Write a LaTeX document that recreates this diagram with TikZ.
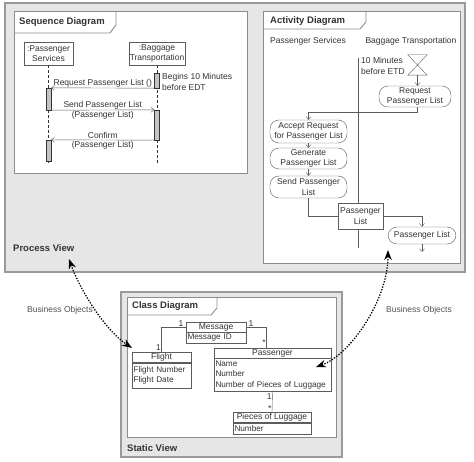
\documentclass[tikz,border=0pt]{standalone}
\usepackage{fontspec}
\setmainfont{Liberation Sans}
\usetikzlibrary{positioning, arrows.meta}

\definecolor{ink}{HTML}{333333}
\definecolor{viewfill}{HTML}{E6E6E6}
\definecolor{viewline}{HTML}{9A9A9A}
\definecolor{frameline}{HTML}{8C8C8C}
\definecolor{barfill}{HTML}{C4C4C4}

\begin{document}
\begin{tikzpicture}[x=1pt, y=-1pt,
  >={Straight Barb[length=3pt, width=5pt]},
  font=\fontsize{8.5}{10.5}\selectfont, text=ink,
  viewbox/.style={draw=viewline, line width=1.3pt, fill=viewfill},
  framebox/.style={draw=frameline, line width=0.9pt, fill=white},
  tabline/.style={draw=frameline, line width=0.9pt},
  titletext/.style={font=\fontsize{9.5}{11}\selectfont\bfseries, anchor=west, inner sep=0pt},
  lifebox/.style={rectangle, draw=ink!80, fill=white, align=center, inner sep=1pt,
    minimum width=#1, minimum height=23pt},
  lifeline/.style={draw=ink, line width=0.9pt, dash pattern=on 3pt off 2pt},
  actbar/.style={rectangle, draw=ink, fill=barfill, minimum width=5pt,
    minimum height=#1, inner sep=0pt},
  msg/.style={->, draw=ink!80},
  lbl/.style={inner sep=1pt},
  note/.style={anchor=west, align=left, inner sep=0pt},
  actbox/.style={rectangle, draw=ink!80, rounded corners=9pt, fill=white, align=center,
    minimum width=#1, minimum height=21pt, inner sep=1pt},
  flow/.style={->, draw=ink!80},
  objbox/.style={rectangle, draw=ink!80, fill=white, align=center,
    minimum width=45pt, minimum height=26pt, inner sep=1pt},
  clshead/.style={rectangle, draw=ink!80, fill=white, minimum width=#1,
    minimum height=10pt, inner sep=0pt},
  clsbody/.style={rectangle, draw=ink!80, fill=white, text width=#1, align=left,
    font=\fontsize{8.2}{10.5}\selectfont, inner xsep=1.5pt, inner ysep=1pt},
  assoc/.style={draw=ink!80},
  mult/.style={inner sep=0.5pt},
  busarr/.style={{Stealth[length=10pt, width=7.5pt]}-{Stealth[length=10pt, width=7.5pt]},
    line width=1.3pt, dash pattern=on 1.3pt off 1.5pt, draw=black},
]
\fill[white] (0,0) rectangle (474,462);
\useasboundingbox (0,0) rectangle (474,462);

% --- Process view ---
\draw[viewbox] (5,3) rectangle (465,272);
\node[titletext] (pvt) at (13,248) {Process View};

% --- Sequence diagram ---
\draw[framebox] (14,11) rectangle (247,173);
\draw[tabline] (116,11) -- (116,25) -- (110,33) -- (14,33);
\node[titletext] (sdt) at (19,22) {Sequence Diagram};

\node[lifebox=49pt] (ps) at (48.5,53.5) {:Passenger\\Services};
\node[lifebox=56pt] (bt) at (157,53.5) {:Baggage\\Transportation};
\coordinate (psend) at (48.5,163);
\coordinate (btend) at (157,163);
\draw[lifeline] (ps) -- (psend);
\draw[lifeline] (bt) -- (btend);

\node[actbar=15pt] (b1) at (157,80.5) {};
\node[actbar=22pt] (b2) at (48.5,99) {};
\node[actbar=30pt] (b3) at (157,125) {};
\node[actbar=21pt] (b4) at (48.5,150.5) {};

\draw[msg] (b1.south west) -- node[lbl, above] (m1) {Request Passenger List ()} (b2.north east);
\draw[msg] (b2.south east) -- node[lbl, above] (m2a) {Send Passenger List}
  node[lbl, below] (m2b) {(Passenger List)} (b3.north west);
\draw[msg] (b3.south west) -- node[lbl, above] (m3a) {Confirm}
  node[lbl, below] (m3b) {(Passenger List)} (b4.north east);
\node[note] (begins) at (162,82) {Begins 10 Minutes\\before EDT};

% --- Activity diagram ---
\draw[framebox] (263,11) rectangle (460,263);
\draw[tabline] (366,11) -- (366,22) -- (360,29) -- (263,29);
\node[titletext] (adt) at (270,21) {Activity Diagram};

\node (psh) at (308,41) {Passenger Services};
\node (bth) at (411,41) {Baggage Transportation};
\coordinate (lanetop) at (358,58);
\coordinate (lanebot) at (358,248);
\draw[ink!80] (lanetop) -- (lanebot);

\node[minimum width=19pt, minimum height=20pt, inner sep=0pt] (hg) at (417.5,65) {};
\draw[ink!80] (hg.north west) -- (hg.north east) -- (hg.south west) -- (hg.south east) -- cycle;
\node[note] (tmr) at (361,66) {10 Minutes\\before ETD};

\node[actbox=72pt] (req) at (415,96.5) {Request\\Passenger List};
\node[actbox=77pt, minimum height=23pt] (acc) at (308.5,131.5) {Accept Request\\for Passenger List};
\node[actbox=77pt] (gen) at (308.5,158.5) {Generate\\Passenger List};
\node[actbox=77pt, minimum height=22pt] (snd) at (308.5,187) {Send Passenger\\List};
\node[objbox] (obj) at (360.5,216) {Passenger\\List};
\node[actbox=68pt, minimum height=17pt] (pl) at (422,235.5) {Passenger List};
\coordinate (plend) at (422,252);

\draw[flow] (hg.south) -- (hg.south |- req.north);
\draw[flow] (req.south -| hg.south) -- ++(0,5) -| (acc.north);
\draw[flow] (acc) -- (gen);
\draw[flow] (gen) -- (snd);
\draw[ink!80] (snd.south) |- (obj.west);
\draw[flow] (obj.east) -| (pl.north);
\draw[flow] (pl.south) -- (plend);

% --- Static view ---
\draw[viewbox] (121,292) rectangle (342,457);
\node[titletext] (svt) at (127,448) {Static View};

% --- Class diagram ---
\draw[framebox] (127,297) rectangle (336,437);
\draw[tabline] (217,297) -- (217,308) -- (211,315) -- (127,315);
\node[titletext] (cdt) at (132,306) {Class Diagram};

\node[clshead=60pt] (msg) at (216,327) {Message};
\node[clsbody=57pt, minimum height=11pt, below=0pt of msg] (msgb) {Message ID};
\node[clshead=59pt] (fl) at (161.5,357.5) {Flight};
\node[clsbody=56pt, minimum height=25pt, below=0pt of fl] (flb) {Flight Number\\Flight Date};
\node[clshead=117pt] (pa) at (272.5,353) {Passenger};
\node[clsbody=114pt, minimum height=33pt, below=0pt of pa] (pab)
  {Name\\Number\\Number of Pieces of Luggage};
\node[clshead=78pt] (lg) at (272,417.5) {Pieces of Luggage};
\node[clsbody=75pt, minimum height=11pt, below=0pt of lg] (lgb) {Number};

\draw[assoc] (msg.west) -| node[mult, pos=0.1, above] (ma1) {1}
  node[mult, pos=0.9, left] (ma2) {1} (fl.north);
\draw[assoc] (msg.east) -| node[mult, pos=0.12, above] (mb1) {1}
  node[mult, pos=0.88, left] (mb2) {*} ([xshift=-6pt]pa.north);
\draw[assoc] (pab.south) -- node[mult, pos=0.25, left] (mc1) {1}
  node[mult, pos=0.8, left] (mc2) {*} (lg.north);

% --- Business objects links ---
\node[text=ink!85] (bo1) at (60,310) {Business Objects};
\node[text=ink!85] (bo2) at (419,310) {Business Objects};
\coordinate (pvtip) at (69,259);
\coordinate (adtip) at (388,250);
\coordinate (fltip) at (132,348);
\coordinate (patip) at (316,367);
\draw[busarr] (pvtip) .. controls (80,290) and (105,330) .. (fltip);
\draw[busarr] (adtip) .. controls (388,300) and (350,355) .. (patip);

\end{tikzpicture}
\end{document}
